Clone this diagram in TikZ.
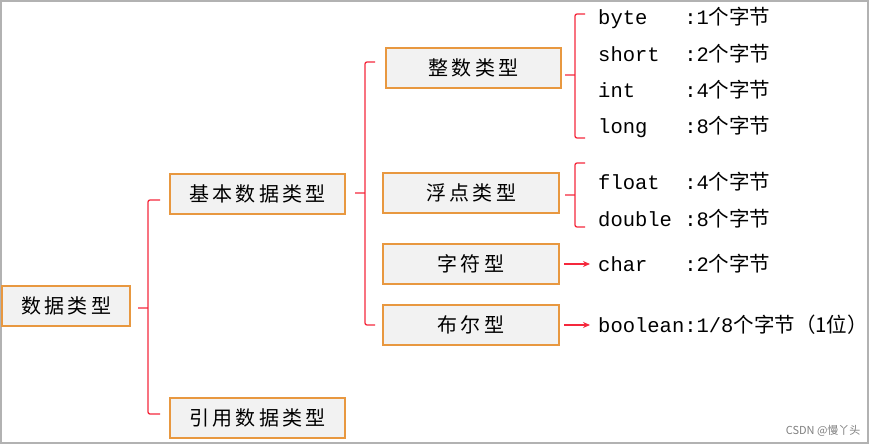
\documentclass[tikz,border=0pt]{standalone}
\usepackage{fontspec}
\newfontfamily\cjk{Noto Sans CJK SC}
\newfontfamily\mono{Liberation Mono}
\usetikzlibrary{arrows.meta}
\begin{document}
\begin{tikzpicture}[x=1pt,y=-1pt,
  box/.style={draw={rgb,255:red,232;green,152;blue,64},line width=2.4pt,fill={rgb,255:red,242;green,242;blue,242},inner sep=0pt,font=\cjk\fontsize{20}{22}\selectfont},
  br/.style={draw={rgb,255:red,245;green,40;blue,60},line width=1.3pt,rounded corners=2pt},
  lbl/.style={anchor=west,inner sep=0pt,font=\mono\fontsize{20.5}{22}\selectfont}]
\fill[white] (0,0) rectangle (869,444);
\draw[gray!60,line width=1.5pt] (1,1) rectangle (868,443);
\node[box,minimum width=128pt,minimum height=40pt] (root) at (66,306) {数\,据\,类\,型};
\node[box,minimum width=175pt,minimum height=40pt] (basic) at (257.5,194) {基\,本\,数\,据\,类\,型};
\node[box,minimum width=175pt,minimum height=40pt] (ref) at (257.5,418) {引\,用\,数\,据\,类\,型};
\node[box,minimum width=175pt,minimum height=40pt] (int) at (473.5,68) {整\,数\,类\,型};
\node[box,minimum width=176pt,minimum height=40pt] (flt) at (471,193) {浮\,点\,类\,型};
\node[box,minimum width=176pt,minimum height=40pt] (chr) at (471,264) {字\,符\,型};
\node[box,minimum width=176pt,minimum height=40pt] (bool) at (471,325) {布\,尔\,型};
\def\L#1#2#3#4{\node[lbl] (#1) at (598,#2) {#3{\cjk #4}};}
\L{t1}{18}{byte\ \ \ :1}{个字节}
\L{t2}{54}{short\ \ :2}{个字节}
\L{t3}{90}{int\ \ \ \ :4}{个字节}
\L{t4}{127}{long\ \ \ :8}{个字节}
\L{t5}{182}{float\ \ :4}{个字节}
\L{t6}{219}{double\ :8}{个字节}
\L{t7}{264}{char\ \ \ :2}{个字节}
\L{t8}{325}{boolean:1/8}{个字节（1位）}
\coordinate (a1) at (138,308);
\draw[br] (a1) -- (148,308) (160,200) -- (148,200) -- (148,414) -- (160,414);
\coordinate (a2) at (355,193);
\draw[br] (a2) -- (365,193) (375,62) -- (365,62) -- (365,325) -- (375,325);
\coordinate (a3) at (565,75);
\draw[br] (a3) -- (575,75) (585,14) -- (575,14) -- (575,138) -- (585,138);
\coordinate (a4) at (565,195);
\draw[br] (a4) -- (575,195) (585,163) -- (575,163) -- (575,227) -- (585,227);
\coordinate (e7) at (590,264);
\coordinate (e8) at (590,325);
\draw[br,-{Stealth[length=7pt,width=6pt]}] (chr.east) ++(4,0) -- (e7);
\draw[br,-{Stealth[length=7pt,width=6pt]}] (bool.east) ++(4,0) -- (e8);
\node[anchor=south east,font=\cjk\fontsize{11}{12}\selectfont,text=gray] (wm) at (864,440) {CSDN @慢丫头};
\end{tikzpicture}
\end{document}
